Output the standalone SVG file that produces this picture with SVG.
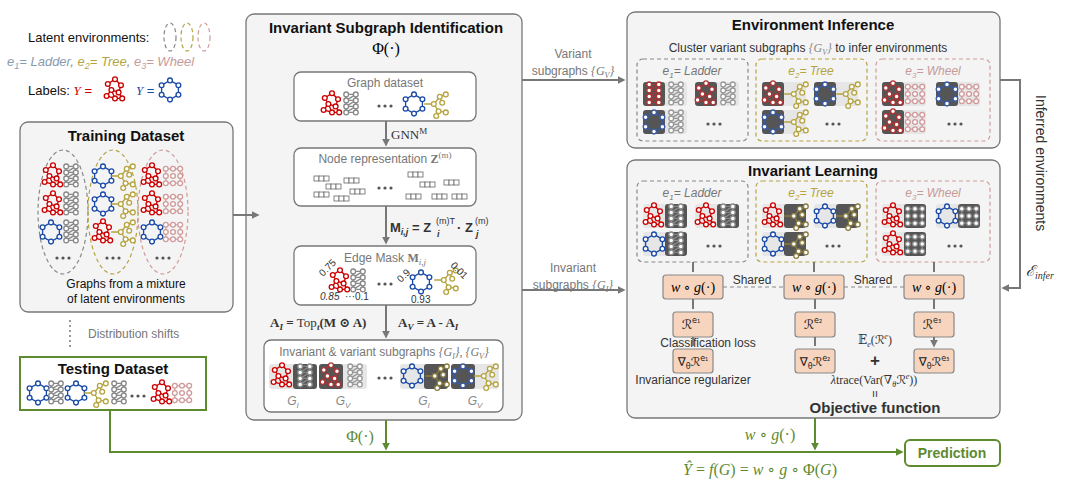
<svg xmlns="http://www.w3.org/2000/svg" xmlns:xlink="http://www.w3.org/1999/xlink" width="1072" height="484" viewBox="0 0 1072 484">
<style>
text{font-family:"Liberation Sans",Arial,sans-serif;}
.m{font-family:"Liberation Serif","DejaVu Serif",serif;}
.r{font-family:"DejaVu Sans",sans-serif;}
.box{fill:#f4f4f4;stroke:#777;stroke-width:1.3;}
.inner{fill:#fff;stroke:#777;stroke-width:1.3;}
.dg{fill:none;stroke:#888;stroke-width:1.2;stroke-dasharray:4 3;}
.do{fill:none;stroke:#b5a440;stroke-width:1.2;stroke-dasharray:4 3;}
.dp{fill:none;stroke:#d09a9a;stroke-width:1.2;stroke-dasharray:4 3;}
.ttl{font-weight:bold;font-size:15px;fill:#111;}
.sub{font-size:12px;fill:#777;}
.arr{stroke:#777;stroke-width:2;fill:none;marker-end:url(#ah);}
.grn{stroke:#5e8a30;stroke-width:2;fill:none;}
.ob{fill:#f7d4bd;stroke:#888;stroke-width:1.2;}
.g circle{fill:#fff;stroke:currentColor;stroke-width:1.1;}
.g path,.g polygon{fill:none;stroke:currentColor;stroke-width:1.1;}
.tile{fill:#e6e6e6;}
.dark{fill:#555;}
</style>
<defs>
<marker id="ah" viewBox="0 0 10 10" refX="8" refY="5" markerWidth="4" markerHeight="4" orient="auto"><path d="M0,0L10,5L0,10z" fill="#777"/></marker>
<marker id="ahg" viewBox="0 0 10 10" refX="8" refY="5" markerWidth="4" markerHeight="4" orient="auto"><path d="M0,0L10,5L0,10z" fill="#5e8a30"/></marker>
<g id="blob" class="g"><g transform="scale(1.2)"><path d="M-6,-5L0,-9L5,-4L3,2L-3,0L-6,-5M-3,0L-7,5L0,7L6,7L3,2M0,7L-3,0"/><circle cx="-6" cy="-5" r="2"/><circle cx="0" cy="-9" r="2"/><circle cx="5" cy="-4" r="2"/><circle cx="-3" cy="0" r="2"/><circle cx="3" cy="2" r="2"/><circle cx="-7" cy="5" r="2"/><circle cx="0" cy="7" r="2"/><circle cx="6" cy="7" r="2"/></g></g>
<g id="ring" class="g"><g transform="scale(1.2)"><polygon points="0,-8 7,-4 7,4 0,8 -7,4 -7,-4"/><circle cx="0" cy="-8" r="2"/><circle cx="7" cy="-4" r="2"/><circle cx="7" cy="4" r="2"/><circle cx="0" cy="8" r="2"/><circle cx="-7" cy="4" r="2"/><circle cx="-7" cy="-4" r="2"/></g></g>
<g id="ladder" class="g"><g transform="scale(1.2)"><path d="M-4,-8L4,-8L-4,-3L4,-3L-4,2L4,2L-4,7L4,7M-4,-8L-4,7M4,-8L4,7"/><circle cx="-4" cy="-8" r="2"/><circle cx="4" cy="-8" r="2"/><circle cx="-4" cy="-3" r="2"/><circle cx="4" cy="-3" r="2"/><circle cx="-4" cy="2" r="2"/><circle cx="4" cy="2" r="2"/><circle cx="-4" cy="7" r="2"/><circle cx="4" cy="7" r="2"/></g></g>
<g id="tree" class="g"><g transform="scale(1.2)"><path d="M-9,0L-1,0L4,-6L9,-8M4,-6L6,-1M-1,0L3,6L9,7M3,6L1,10"/><circle cx="-1" cy="0" r="2"/><circle cx="4" cy="-6" r="2"/><circle cx="9" cy="-8" r="2"/><circle cx="6" cy="-1" r="2"/><circle cx="3" cy="6" r="2"/><circle cx="9" cy="7" r="2"/><circle cx="1" cy="10" r="2"/></g></g>
<g id="wheel" class="g"><g transform="scale(1.2)"><path d="M-6,-6L6,-6L6,6L-6,6z"/><circle cx="-6" cy="-6" r="2"/><circle cx="0" cy="-6" r="2"/><circle cx="6" cy="-6" r="2"/><circle cx="-6" cy="0" r="2"/><circle cx="0" cy="0" r="2"/><circle cx="6" cy="0" r="2"/><circle cx="-6" cy="6" r="2"/><circle cx="0" cy="6" r="2"/><circle cx="6" cy="6" r="2"/></g></g>
<g id="dots"><circle cx="-6" cy="0" r="1.6" fill="#555"/><circle cx="0" cy="0" r="1.6" fill="#555"/><circle cx="6" cy="0" r="1.6" fill="#555"/></g>
<g id="nr"><g fill="#fff" stroke="#666" stroke-width="0.8"><rect x="0" y="0" width="5" height="5"/><rect x="5" y="0" width="5" height="5"/><rect x="10" y="0" width="5" height="5"/></g></g>
</defs>

<g id="legend">
<text x="28" y="42" font-size="13" fill="#111">Latent environments:</text>
<ellipse cx="170" cy="37" rx="6" ry="14" class="dg"/><ellipse cx="187" cy="37" rx="6" ry="14" class="do"/><ellipse cx="204" cy="37" rx="6" ry="14" class="dp"/>
<text x="7" y="66" font-size="13" font-style="italic"><tspan fill="#8a9ab0">e</tspan><tspan fill="#8a9ab0" font-size="9" dy="3">1</tspan><tspan fill="#8a9ab0" dy="-3">= Ladder</tspan><tspan fill="#888">, </tspan><tspan fill="#b5a440">e</tspan><tspan fill="#b5a440" font-size="9" dy="3">2</tspan><tspan fill="#b5a440" dy="-3">= Tree</tspan><tspan fill="#888">, </tspan><tspan fill="#c79a9a">e</tspan><tspan fill="#c79a9a" font-size="9" dy="3">3</tspan><tspan fill="#c79a9a" dy="-3">= Wheel</tspan></text>
<text x="28" y="95" font-size="13" fill="#111">Labels: <tspan class="m" font-style="italic" fill="#c00">Y</tspan> <tspan fill="#c00">=</tspan></text>
<use href="#blob" x="115" y="90" style="color:#c00"/>
<text x="136" y="95" font-size="13"><tspan class="m" font-style="italic" fill="#1a4aa8">Y</tspan><tspan fill="#1a4aa8"> =</tspan></text>
<use href="#ring" x="170" y="90" style="color:#1a4aa8"/>
</g>

<g id="training">
<rect x="20" y="122" width="213" height="190" rx="8" class="box"/>
<text x="126" y="141" text-anchor="middle" class="ttl">Training Dataset</text>
<ellipse cx="63" cy="212" rx="25" ry="62" class="dg"/><ellipse cx="113" cy="212" rx="25" ry="62" class="do"/><ellipse cx="163" cy="212" rx="25" ry="62" class="dp"/>
<use href="#blob" x="53" y="176" style="color:#c00"/><use href="#ladder" x="71" y="176" style="color:#888"/>
<use href="#blob" x="53" y="204" style="color:#c00"/><use href="#ladder" x="71" y="204" style="color:#888"/>
<use href="#ring" x="51" y="232" style="color:#1a4aa8"/><use href="#ladder" x="71" y="232" style="color:#888"/>
<use href="#ring" x="103" y="176" style="color:#1a4aa8"/><use href="#tree" x="122" y="176" style="color:#b5a440"/>
<use href="#ring" x="103" y="204" style="color:#1a4aa8"/><use href="#tree" x="122" y="204" style="color:#b5a440"/>
<use href="#blob" x="103" y="232" style="color:#c00"/><use href="#tree" x="122" y="232" style="color:#b5a440"/>
<use href="#blob" x="152" y="176" style="color:#c00"/><use href="#wheel" x="173" y="176" style="color:#d09a9a"/>
<use href="#blob" x="152" y="204" style="color:#c00"/><use href="#wheel" x="173" y="204" style="color:#d09a9a"/>
<use href="#ring" x="152" y="232" style="color:#1a4aa8"/><use href="#wheel" x="173" y="232" style="color:#d09a9a"/>
<use href="#dots" x="63" y="258"/><use href="#dots" x="113" y="258"/><use href="#dots" x="163" y="258"/>
<text x="126" y="288" text-anchor="middle" font-size="12" fill="#111">Graphs from a mixture</text>
<text x="126" y="303" text-anchor="middle" font-size="12" fill="#111">of latent environments</text>
</g>

<g id="shift">
<path d="M70,320V348" stroke="#999" stroke-width="2" stroke-dasharray="2 3"/>
<text x="88" y="338" font-size="12" fill="#777">Distribution shifts</text>
</g>

<g id="testing">
<rect x="20" y="357" width="186" height="53" class="box" style="fill:#fff;stroke:#5e8a30;stroke-width:2"/>
<text x="113" y="374" text-anchor="middle" class="ttl">Testing Dataset</text>
<use href="#ring" x="38" y="393" style="color:#1a4aa8"/><use href="#ladder" x="56" y="393" style="color:#888"/>
<use href="#ring" x="76" y="393" style="color:#1a4aa8"/><use href="#tree" x="95" y="393" style="color:#b5a440"/>
<use href="#ladder" x="119" y="393" style="color:#888"/>
<use href="#dots" x="138" y="396"/>
<use href="#blob" x="162" y="393" style="color:#c00"/><use href="#wheel" x="182" y="393" style="color:#d09a9a"/>
</g>

<g id="isi">
<rect x="246" y="14" width="276" height="406" rx="8" class="box"/>
<text x="386" y="33" text-anchor="middle" class="ttl">Invariant Subgraph Identification</text>
<text x="386" y="54" text-anchor="middle" class="m" font-size="16">Φ(·)</text>
<rect x="294" y="72" width="182" height="49" rx="7" class="inner"/>
<text x="385" y="87" text-anchor="middle" class="sub">Graph dataset</text>
<use href="#blob" x="332" y="104" style="color:#c00"/><use href="#ladder" x="351" y="104" style="color:#888"/>
<use href="#dots" x="385" y="106"/>
<use href="#ring" x="414" y="104" style="color:#1a4aa8"/><use href="#tree" x="435" y="104" style="color:#b5a440"/>

<rect x="294" y="148" width="182" height="58" rx="7" class="inner"/>
<text x="385" y="163" text-anchor="middle" class="sub">Node representation <tspan class="m" font-weight="bold">Z</tspan><tspan class="m" font-size="9" dy="-5">(m)</tspan></text>
<use href="#nr" x="314" y="176"/><use href="#nr" x="326" y="184"/><use href="#nr" x="314" y="192"/><use href="#nr" x="334" y="196"/><use href="#nr" x="344" y="178"/><use href="#nr" x="350" y="189"/>
<use href="#dots" x="385" y="188"/>
<use href="#nr" x="408" y="172"/><use href="#nr" x="420" y="182"/><use href="#nr" x="406" y="194"/><use href="#nr" x="432" y="194"/><use href="#nr" x="444" y="180"/><use href="#nr" x="452" y="194"/>

<rect x="294" y="246" width="182" height="59" rx="7" class="inner"/>
<text x="385" y="262" text-anchor="middle" class="sub">Edge Mask <tspan class="m" font-weight="bold">M</tspan><tspan class="m" font-style="italic" font-size="9" dy="3">i,j</tspan></text>
<use href="#blob" x="340" y="281" style="color:#c00"/><use href="#ladder" x="358" y="281" style="color:#888"/>
<text x="323" y="277" font-size="10" fill="#333" transform="rotate(-45 323 277)">0.75</text>
<text x="320" y="300" font-size="10" font-style="italic" fill="#333">0.85</text><text x="345" y="300" font-size="10" fill="#333">···0.1</text>
<use href="#dots" x="385" y="284"/>
<use href="#ring" x="421" y="282" style="color:#1a4aa8"/><use href="#tree" x="445" y="280" style="color:#b5a440"/>
<text x="401" y="283" font-size="10" fill="#333" transform="rotate(-45 401 283)">0.9</text>
<text x="450" y="266" font-size="10" fill="#333" transform="rotate(45 450 266)">0.01</text>
<text x="411" y="303" font-size="10" fill="#333">0.93</text>

<rect x="264" y="340" width="239" height="72" rx="7" class="inner"/>
<text x="384" y="356" text-anchor="middle" class="sub">Invariant &amp; variant subgraphs <tspan class="m" font-style="italic">{G</tspan><tspan class="m" font-style="italic" font-size="8" dy="3">I</tspan><tspan class="m" font-style="italic" dy="-3">}, {G</tspan><tspan class="m" font-style="italic" font-size="8" dy="3">V</tspan><tspan class="m" font-style="italic" dy="-3">}</tspan></text>
<rect x="269" y="364" width="48" height="25" rx="3" class="tile"/><rect x="293" y="364" width="24" height="25" rx="3" class="dark"/>
<use href="#blob" x="282" y="376" style="color:#c00"/><use href="#ladder" x="305" y="376" style="color:#888"/>
<rect x="319" y="364" width="48" height="25" rx="3" class="tile"/><rect x="319" y="364" width="24" height="25" rx="3" class="dark"/>
<use href="#blob" x="331" y="376" style="color:#a33"/><use href="#ladder" x="355" y="376" style="color:#999"/>
<use href="#dots" x="385" y="378"/>
<rect x="400" y="364" width="48" height="25" rx="3" class="tile"/><rect x="424" y="364" width="24" height="25" rx="3" class="dark"/>
<use href="#ring" x="412" y="376" style="color:#1a4aa8"/><use href="#tree" x="436" y="376" style="color:#8a7c40"/>
<rect x="451" y="364" width="48" height="25" rx="3" class="tile"/><rect x="451" y="364" width="24" height="25" rx="3" class="dark"/>
<use href="#ring" x="463" y="376" style="color:#3a5aa0"/><use href="#tree" x="485" y="376" style="color:#b5a440"/>
<g class="m" font-style="italic" font-size="12" fill="#888" text-anchor="middle">
<text x="293" y="405">G<tspan font-size="8" dy="3">I</tspan></text><text x="343" y="405">G<tspan font-size="8" dy="3">V</tspan></text>
<text x="424" y="405">G<tspan font-size="8" dy="3">I</tspan></text><text x="475" y="405">G<tspan font-size="8" dy="3">V</tspan></text></g>
</g>

<g id="envinf">
<rect x="627" y="12" width="373" height="136" rx="8" class="box"/>
<text x="813" y="30" text-anchor="middle" class="ttl">Environment Inference</text>
<text x="808" y="52" text-anchor="middle" font-size="12" fill="#333">Cluster variant subgraphs <tspan class="m" font-style="italic" fill="#888">{G</tspan><tspan class="m" font-style="italic" font-size="8" dy="3" fill="#888">V</tspan><tspan class="m" font-style="italic" dy="-3" fill="#888">}</tspan> to infer environments</text>
<rect x="637" y="59" width="111" height="82" rx="6" class="dg"/>
<rect x="756" y="59" width="111" height="82" rx="6" class="do"/>
<rect x="876" y="59" width="114" height="82" rx="6" class="dp"/>
<g font-size="12" font-style="italic" text-anchor="middle">
<text x="692" y="75" fill="#777">e<tspan font-size="8" dy="3">1</tspan><tspan dy="-3">= Ladder</tspan></text>
<text x="811" y="75" fill="#b5a440">e<tspan font-size="8" dy="3">2</tspan><tspan dy="-3">= Tree</tspan></text>
<text x="933" y="75" fill="#c79a9a">e<tspan font-size="8" dy="3">3</tspan><tspan dy="-3">= Wheel</tspan></text></g>
<rect x="643" y="82" width="44" height="24" rx="3" class="tile"/><rect x="643" y="82" width="22" height="24" rx="3" class="dark"/><use href="#ladder" x="654" y="94" style="color:#a33"/><use href="#ladder" x="676" y="94" style="color:#999"/>
<rect x="695" y="82" width="44" height="24" rx="3" class="tile"/><rect x="695" y="82" width="22" height="24" rx="3" class="dark"/><use href="#blob" x="706" y="94" style="color:#a33"/><use href="#ladder" x="728" y="94" style="color:#999"/>
<rect x="643" y="110" width="44" height="24" rx="3" class="tile"/><rect x="643" y="110" width="22" height="24" rx="3" class="dark"/><use href="#ring" x="654" y="122" style="color:#3a5aa0"/><use href="#ladder" x="676" y="122" style="color:#999"/>
<use href="#dots" x="714" y="124"/>
<rect x="762" y="82" width="44" height="24" rx="3" class="tile"/><rect x="762" y="82" width="22" height="24" rx="3" class="dark"/><use href="#blob" x="773" y="94" style="color:#a33"/><use href="#tree" x="795" y="94" style="color:#b5a440"/>
<rect x="814" y="82" width="44" height="24" rx="3" class="tile"/><rect x="814" y="82" width="22" height="24" rx="3" class="dark"/><use href="#ring" x="825" y="94" style="color:#3a5aa0"/><use href="#tree" x="847" y="94" style="color:#b5a440"/>
<rect x="762" y="110" width="44" height="24" rx="3" class="tile"/><rect x="762" y="110" width="22" height="24" rx="3" class="dark"/><use href="#ring" x="773" y="122" style="color:#3a5aa0"/><use href="#tree" x="795" y="122" style="color:#b5a440"/>
<use href="#dots" x="833" y="124"/>
<rect x="882" y="82" width="44" height="24" rx="3" class="tile"/><rect x="882" y="82" width="22" height="24" rx="3" class="dark"/><use href="#blob" x="893" y="94" style="color:#a33"/><use href="#wheel" x="915" y="94" style="color:#d09a9a"/>
<rect x="936" y="82" width="44" height="24" rx="3" class="tile"/><rect x="936" y="82" width="22" height="24" rx="3" class="dark"/><use href="#ring" x="947" y="94" style="color:#3a5aa0"/><use href="#wheel" x="969" y="94" style="color:#d09a9a"/>
<rect x="882" y="110" width="44" height="24" rx="3" class="tile"/><rect x="882" y="110" width="22" height="24" rx="3" class="dark"/><use href="#blob" x="893" y="122" style="color:#a33"/><use href="#wheel" x="915" y="122" style="color:#d09a9a"/>
<use href="#dots" x="955" y="124"/>
</g>

<g id="invlearn">
<rect x="627" y="160" width="373" height="258" rx="8" class="box"/>
<text x="813" y="176" text-anchor="middle" class="ttl">Invariant Learning</text>
<rect x="637" y="181" width="111" height="81" rx="6" class="dg"/>
<rect x="756" y="181" width="111" height="81" rx="6" class="do"/>
<rect x="876" y="181" width="114" height="81" rx="6" class="dp"/>
<g font-size="12" font-style="italic" text-anchor="middle">
<text x="692" y="197" fill="#777">e<tspan font-size="8" dy="3">1</tspan><tspan dy="-3">= Ladder</tspan></text>
<text x="811" y="197" fill="#b5a440">e<tspan font-size="8" dy="3">2</tspan><tspan dy="-3">= Tree</tspan></text>
<text x="933" y="197" fill="#c79a9a">e<tspan font-size="8" dy="3">3</tspan><tspan dy="-3">= Wheel</tspan></text></g>
<rect x="643" y="204" width="44" height="24" rx="3" class="tile"/><rect x="665" y="204" width="22" height="24" rx="3" class="dark"/><use href="#blob" x="654" y="216" style="color:#c00"/><use href="#ladder" x="676" y="216" style="color:#888"/>
<rect x="695" y="204" width="44" height="24" rx="3" class="tile"/><rect x="717" y="204" width="22" height="24" rx="3" class="dark"/><use href="#blob" x="706" y="216" style="color:#c00"/><use href="#ladder" x="728" y="216" style="color:#888"/>
<rect x="643" y="232" width="44" height="24" rx="3" class="tile"/><rect x="665" y="232" width="22" height="24" rx="3" class="dark"/><use href="#ring" x="654" y="244" style="color:#1a4aa8"/><use href="#ladder" x="676" y="244" style="color:#888"/>
<use href="#dots" x="714" y="246"/>
<rect x="762" y="204" width="44" height="24" rx="3" class="tile"/><rect x="784" y="204" width="22" height="24" rx="3" class="dark"/><use href="#blob" x="773" y="216" style="color:#c00"/><use href="#tree" x="795" y="216" style="color:#8a7c40"/>
<rect x="814" y="204" width="44" height="24" rx="3" class="tile"/><rect x="836" y="204" width="22" height="24" rx="3" class="dark"/><use href="#ring" x="825" y="216" style="color:#1a4aa8"/><use href="#tree" x="847" y="216" style="color:#8a7c40"/>
<rect x="762" y="232" width="44" height="24" rx="3" class="tile"/><rect x="784" y="232" width="22" height="24" rx="3" class="dark"/><use href="#ring" x="773" y="244" style="color:#1a4aa8"/><use href="#tree" x="795" y="244" style="color:#8a7c40"/>
<use href="#dots" x="833" y="246"/>
<rect x="882" y="204" width="44" height="24" rx="3" class="tile"/><rect x="904" y="204" width="22" height="24" rx="3" class="dark"/><use href="#blob" x="893" y="216" style="color:#c00"/><use href="#wheel" x="915" y="216" style="color:#888"/>
<rect x="936" y="204" width="44" height="24" rx="3" class="tile"/><rect x="958" y="204" width="22" height="24" rx="3" class="dark"/><use href="#ring" x="947" y="216" style="color:#1a4aa8"/><use href="#wheel" x="969" y="216" style="color:#888"/>
<rect x="882" y="232" width="44" height="24" rx="3" class="tile"/><rect x="904" y="232" width="22" height="24" rx="3" class="dark"/><use href="#blob" x="893" y="244" style="color:#c00"/><use href="#wheel" x="915" y="244" style="color:#888"/>
<use href="#dots" x="955" y="246"/>
</g>

<g id="wg1"><rect x="663" y="275" width="60" height="24" rx="3" class="ob"/><text x="693" y="292" text-anchor="middle" class="m" font-size="14"><tspan font-style="italic">w</tspan> ∘ <tspan font-style="italic">g</tspan>(·)</text></g>
<g id="wg2"><rect x="784" y="275" width="60" height="24" rx="3" class="ob"/><text x="814" y="292" text-anchor="middle" class="m" font-size="14"><tspan font-style="italic">w</tspan> ∘ <tspan font-style="italic">g</tspan>(·)</text></g>
<g id="wg3"><rect x="904" y="275" width="60" height="24" rx="3" class="ob"/><text x="934" y="292" text-anchor="middle" class="m" font-size="14"><tspan font-style="italic">w</tspan> ∘ <tspan font-style="italic">g</tspan>(·)</text></g>
<g id="r1"><rect x="673" y="312" width="40" height="25" rx="3" class="ob"/><text x="691" y="329" text-anchor="middle" class="r" font-size="13" fill="#222">ℛ<tspan font-size="8" dy="-6">e₁</tspan></text></g>
<g id="r2"><rect x="795" y="312" width="40" height="25" rx="3" class="ob"/><text x="813" y="329" text-anchor="middle" class="r" font-size="13" fill="#222">ℛ<tspan font-size="8" dy="-6">e₂</tspan></text></g>
<g id="r3"><rect x="914" y="312" width="40" height="25" rx="3" class="ob"/><text x="932" y="329" text-anchor="middle" class="r" font-size="13" fill="#222">ℛ<tspan font-size="8" dy="-6">e₃</tspan></text></g>
<g id="d1"><rect x="673" y="349" width="40" height="24" rx="3" class="ob"/><text x="693" y="366" text-anchor="middle" class="r" font-size="12" fill="#222">∇<tspan font-size="8" dy="3">θ</tspan><tspan dy="-3">ℛ</tspan><tspan font-size="8" dy="-5">e₁</tspan></text></g>
<g id="d2"><rect x="795" y="349" width="40" height="24" rx="3" class="ob"/><text x="815" y="366" text-anchor="middle" class="r" font-size="12" fill="#222">∇<tspan font-size="8" dy="3">θ</tspan><tspan dy="-3">ℛ</tspan><tspan font-size="8" dy="-5">e₂</tspan></text></g>
<g id="d3"><rect x="914" y="349" width="40" height="24" rx="3" class="ob"/><text x="934" y="366" text-anchor="middle" class="r" font-size="12" fill="#222">∇<tspan font-size="8" dy="3">θ</tspan><tspan dy="-3">ℛ</tspan><tspan font-size="8" dy="-5">e₃</tspan></text></g>

<g id="objective">
<text x="752" y="284" text-anchor="middle" font-size="12" fill="#333">Shared</text>
<text x="873" y="284" text-anchor="middle" font-size="12" fill="#333">Shared</text>
<text x="708" y="347" text-anchor="middle" font-size="12" fill="#333">Classification loss</text>
<text x="875" y="344" text-anchor="middle" class="m" font-size="12" fill="#333">𝔼<tspan font-size="8" dy="3" font-style="italic">e</tspan><tspan dy="-3">(</tspan><tspan class="r">ℛ</tspan><tspan font-size="8" dy="-5" font-style="italic">e</tspan><tspan dy="5">)</tspan></text>
<text x="875" y="366" text-anchor="middle" font-size="17" font-weight="bold" fill="#333">+</text>
<text x="693" y="384" text-anchor="middle" font-size="12" fill="#333">Invariance regularizer</text>
<text x="874" y="384" text-anchor="middle" class="m" font-size="12" fill="#333"><tspan font-style="italic">λ</tspan>trace(Var(∇<tspan font-size="8" dy="3" font-style="italic">θ</tspan><tspan dy="-3" class="r">ℛ</tspan><tspan font-size="8" dy="-5" font-style="italic">e</tspan><tspan dy="5">))</tspan></text>
<text x="875" y="398" text-anchor="middle" font-size="12" fill="#333" transform="rotate(90 875 394)">=</text>
<text x="875" y="413" text-anchor="middle" font-size="15" font-weight="bold" fill="#333">Objective function</text>
</g>

<g id="prediction">
<rect x="905" y="440" width="95" height="26" rx="5" fill="#fff" stroke="#5e8a30" stroke-width="2"/>
<text x="952" y="458" text-anchor="middle" font-size="14" font-weight="bold" fill="#5e8a30">Prediction</text>
</g>

<g id="right">
<text x="1036" y="95" font-size="14" fill="#333" transform="rotate(90 1036 95)">Inferred environments</text>
<text x="1040" y="276" text-anchor="middle" class="m" font-size="15" font-style="italic" fill="#333">ℰ<tspan font-size="10" dy="3">infer</tspan></text>
</g>

<g id="connectors">
<path d="M233,215H258" class="arr"/>
<path d="M386,121V145" class="arr"/>
<path d="M386,206V243" class="arr"/>
<path d="M386,305V337" class="arr"/>
<path d="M522,80H624" class="arr"/>
<path d="M522,290H624" class="arr"/>
<path d="M1000,80H1020V288H1003" class="arr"/>
<path d="M693,262V272M814,262V272M934,262V272M693,299V309M815,299V309M934,299V309M693,337V346M815,337V346M934,337V346" class="arr"/>
<path d="M723,287H784M844,287H904" stroke="#888" stroke-width="1.2" stroke-dasharray="4 3"/>
<path d="M110,410V452H902" class="grn" marker-end="url(#ahg)"/>
<path d="M386,420V449" class="grn" marker-end="url(#ahg)"/>
<path d="M815,418V449" class="grn" marker-end="url(#ahg)"/>
<text x="391" y="139" class="m" font-size="13" fill="#333">GNN<tspan font-size="9" dy="-5">M</tspan></text>
<g class="m" font-size="13" font-weight="bold" fill="#333">
<text x="390" y="232">M<tspan font-size="9" font-style="italic" dy="3">i,j</tspan><tspan dy="-3"> = Z</tspan></text>
<text x="436" y="224" font-size="9" font-weight="normal">(m)T</text>
<text x="437" y="237" font-size="9" font-style="italic">i</text>
<text x="457" y="232">· Z</text>
<text x="475" y="224" font-size="9" font-weight="normal">(m)</text>
<text x="476" y="237" font-size="9" font-style="italic">j</text>
</g>
<text x="270" y="327" class="m" font-size="13" font-weight="bold" fill="#333">A<tspan font-size="9" font-style="italic" dy="3">I</tspan><tspan dy="-3"> = </tspan><tspan font-weight="normal">Top</tspan><tspan font-size="9" font-style="italic" dy="3">t</tspan><tspan dy="-3">(M ⊙ A)</tspan></text>
<text x="398" y="327" class="m" font-size="13" font-weight="bold" fill="#333">A<tspan font-size="9" font-style="italic" dy="3">V</tspan><tspan dy="-3"> = A - A</tspan><tspan font-size="9" font-style="italic" dy="3">I</tspan></text>
<text x="573" y="58" text-anchor="middle" font-size="12" fill="#777">Variant</text>
<text x="573" y="75" text-anchor="middle" font-size="12" fill="#777">subgraphs <tspan class="m" font-style="italic">{G</tspan><tspan class="m" font-style="italic" font-size="8" dy="3">V</tspan><tspan class="m" font-style="italic" dy="-3">}</tspan></text>
<text x="573" y="272" text-anchor="middle" font-size="12" fill="#777">Invariant</text>
<text x="573" y="289" text-anchor="middle" font-size="12" fill="#777">subgraphs <tspan class="m" font-style="italic">{G</tspan><tspan class="m" font-style="italic" font-size="8" dy="3">I</tspan><tspan class="m" font-style="italic" dy="-3">}</tspan></text>
<text x="360" y="442" text-anchor="middle" class="m" font-size="16" fill="#5e8a30">Φ(·)</text>
<text x="770" y="440" text-anchor="middle" class="m" font-size="16" fill="#5e8a30"><tspan font-style="italic">w</tspan> ∘ <tspan font-style="italic">g</tspan>(·)</text>
<text x="760" y="475" text-anchor="middle" class="m" font-size="16" fill="#5e8a30"><tspan font-style="italic">Ŷ</tspan> = <tspan font-style="italic">f</tspan>(<tspan font-style="italic">G</tspan>) = <tspan font-style="italic">w</tspan> ∘ <tspan font-style="italic">g</tspan> ∘ Φ(<tspan font-style="italic">G</tspan>)</text>
</g>
</svg>
